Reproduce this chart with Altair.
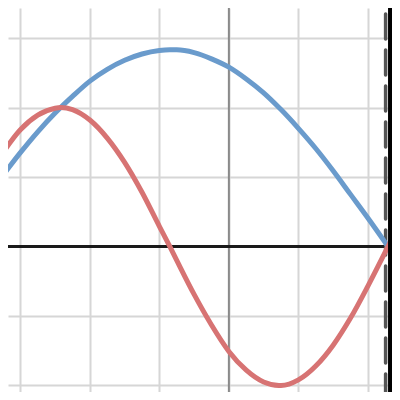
import altair as alt
import pandas as pd

# values (grid unit = 1)
xs = [-3.3, -3.0, -2.75, -2.5, -2.42, -2.25, -2.0, -1.75, -1.5, -1.25, -1.0,
      -0.85, -0.75, -0.5, -0.25, 0.0, 0.25, 0.5, 0.72, 0.75, 1.0, 1.25, 1.5,
      1.75, 2.0, 2.29, 2.5]
blue = [0.96, 1.35, 1.65, 1.92, 2.00, 2.16, 2.38, 2.55, 2.68, 2.77, 2.82,
        2.83, 2.83, 2.79, 2.70, 2.58, 2.41, 2.21, 2.00, 1.97, 1.70, 1.41, 1.09,
        0.75, 0.41, 0.00, -0.30]
red = [1.28, 1.68, 1.89, 1.99, 2.00, 1.97, 1.82, 1.56, 1.21, 0.78, 0.29,
       0.00, -0.20, -0.69, -1.13, -1.51, -1.78, -1.95, -2.00, -2.00, -1.92, -1.72, -1.42,
       -1.03, -0.57, 0.00, 0.42]

x_grid = [-3, -2, -1, 0, 1, 2]
y_grid = [-2, -1, 0, 1, 2, 3]
boundary_x = 2.29
bar_end_x = 2.448
dash_x = 2.255
x_domain = [-3.178, 2.347]
y_domain = [-2.094, 3.432]

curves = pd.DataFrame(
    [{"x": x, "y": b, "s": "blue"} for x, b in zip(xs, blue)]
    + [{"x": x, "y": r, "s": "red"} for x, r in zip(xs, red)]
)

xs_scale = alt.Scale(domain=x_domain, nice=False, zero=False)
ys_scale = alt.Scale(domain=y_domain, nice=False, zero=False)

xaxis = alt.Axis(values=x_grid, labels=False, ticks=False, domain=False, title=None,
                 grid=True, gridColor="#d6d6d6", gridWidth=2)
yaxis = alt.Axis(values=y_grid, labels=False, ticks=False, domain=False, title=None,
                 grid=True, gridColor="#d6d6d6", gridWidth=2)

base = alt.Chart(curves)

lines = base.mark_line(strokeWidth=5, interpolate="monotone", clip=True,
                       strokeCap="round").encode(
    x=alt.X("x:Q", scale=xs_scale, axis=xaxis),
    y=alt.Y("y:Q", scale=ys_scale, axis=yaxis),
    color=alt.Color("s:N", scale=alt.Scale(domain=["blue", "red"],
                                           range=["#6a9bcc", "#d77373"]), legend=None),
    detail="s:N",
)

yaxis_line = alt.Chart(pd.DataFrame({"x": [0]})).mark_rule(
    color="#8a8a8a", strokeWidth=2).encode(x=alt.X("x:Q", scale=xs_scale))
xaxis_line = alt.Chart(pd.DataFrame({"y": [0]})).mark_rule(
    color="#1a1a1a", strokeWidth=3).encode(y=alt.Y("y:Q", scale=ys_scale))

black_bar = alt.Chart(pd.DataFrame({"x": [boundary_x], "x2": [bar_end_x]})).mark_rect(
    color="#000000", clip=True).encode(
    x=alt.X("x:Q", scale=xs_scale), x2="x2:Q")

dash = alt.Chart(pd.DataFrame({"x": [dash_x]})).mark_rule(
    color="#555555", strokeWidth=3.5, strokeDash=[25, 11], strokeDashOffset=30,
    strokeCap="round").encode(x=alt.X("x:Q", scale=xs_scale))

chart = alt.layer(yaxis_line, xaxis_line, dash, lines, black_bar).properties(
    width=384, height=384,
    autosize="none",
    padding=0,
    background="white",
).configure_view(stroke=None)

chart.save("out.html", embed_options={"renderer": "svg", "actions": False})
